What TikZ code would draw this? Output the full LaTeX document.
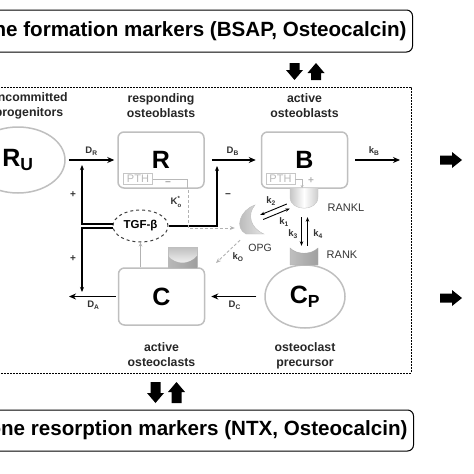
\documentclass[tikz,border=0pt]{standalone}
\usepackage{fontspec}
\setmainfont{Liberation Sans}
\usetikzlibrary{arrows.meta, positioning, shapes.geometric, calc}

\begin{document}
\begin{tikzpicture}[x=1pt, y=-1pt, >=Stealth,
      every node/.style = {inner sep=1pt},
      marker/.style = {draw, line width=1pt, rounded corners=6pt, minimum height=42pt,
        inner xsep=6pt, font=\fontsize{20.6}{23}\selectfont\bfseries},
      cell/.style = {draw=gray!50, line width=1.5pt, rounded corners=6pt, fill=white,
        minimum width=86pt, minimum height=56pt, font=\fontsize{25}{27}\selectfont\bfseries},
      blob/.style = {cell, ellipse, rounded corners=0pt},
      caption/.style = {align=center, font=\fontsize{12.3}{15}\selectfont\bfseries, text=black!85},
      rate/.style = {font=\fontsize{9.5}{10}\selectfont\bfseries, text=black!80},
      sign/.style = {font=\fontsize{10}{10}\selectfont\bfseries, text=black!80},
      site/.style = {minimum width=28pt, minimum height=#1, inner sep=0pt},
      pth/.style = {draw=gray!45, text=gray!55, font=\fontsize{11}{11}\selectfont,
        inner sep=0.5pt, minimum width=29pt, minimum height=11pt},
      flow/.style = {line width=1.3pt, -{Stealth[length=7pt, width=6pt]}},
      feed/.style = {line width=1.1pt, -{Stealth[length=5pt, width=4pt]}},
      bind/.style = {line width=0.9pt, -{Stealth[length=4.5pt, width=3.5pt]}},
      signal/.style = {gray!60, line width=0.9pt, dash pattern=on 3pt off 2pt,
        -{Stealth[length=5pt, width=4pt]}}]

    \useasboundingbox (0,0) rectangle (474,474);
    \clip (0,0) rectangle (474,474);

    % bone markers
    \node[marker, anchor=east] (form) at (413,31) {Bone formation markers (BSAP, Osteocalcin)};
    \node[marker, anchor=east, minimum height=41pt] (resorp) at (414,430.5) {Bone resorption markers (NTX, Osteocalcin)};

    \foreach \ax/\ay/\len in {294.5/63/17, 155.5/382/21}
      \fill (\ax-5,\ay) -- ++(10,0) -- ++(0,\len-10) -- ++(3.5,0) -- ++(-8.5,10)
        -- ++(-8.5,-10) -- ++(3.5,0) -- cycle;
    \foreach \ax/\ay/\len in {316/63/17, 176.5/382/21}
      \fill (\ax,\ay) -- ++(8.5,10) -- ++(-3.5,0) -- ++(0,\len-10) -- ++(-10,0)
        -- ++(0,10-\len) -- ++(-3.5,0) -- cycle;
    \foreach \ay in {160, 298}
      \fill (440,\ay-4.5) -- ++(12,0) -- ++(0,-3.5) -- ++(10,8) -- ++(-10,8)
        -- ++(0,-3.5) -- ++(-12,0) -- cycle;

    % model
    \draw[line width=0.8pt, dash pattern=on 2pt off 1pt] (-10,87) rectangle (411,373);

    \node[blob, minimum width=94pt, minimum height=66pt] (RU) at (18,160) {R\textsubscript{U}};
    \node[cell] (R) at (161,160) {R};
    \node[cell] (B) at (304.5,160) {B};
    \node[cell, minimum height=57pt] (C) at (161.5,296.5) {C};
    \node[blob, minimum width=80pt, minimum height=63pt] (CP) at (305,296.5) {C\textsubscript{P}};

    \node[caption] (RUcap) at (29,105.5) {uncommitted\\progenitors};
    \node[caption, above=12pt of R] (Rcap) {responding\\osteoblasts};
    \node[caption, above=12pt of B] (Bcap) {active\\osteoblasts};
    \node[caption, below=16pt of C] (Ccap) {active\\osteoclasts};
    \node[caption, below=13pt of CP] (CPcap) {osteoclast\\precursor};

    \coordinate (Bout) at (400,160);
    \coordinate (Aout) at (69,296.5);
    \draw[flow, shorten <=3pt, shorten >=3pt] (RU) -- node[rate, above=3pt] {D\textsubscript{R}} (R);
    \draw[flow, shorten <=7pt, shorten >=5pt] (R) -- node[rate, above=3pt] {D\textsubscript{B}} (B);
    \draw[flow, shorten <=7pt] (B) -- node[rate, above=3pt] {k\textsubscript{B}} (Bout);
    \draw[flow, shorten <=8pt, shorten >=6pt] (CP) -- node[rate, below=3pt] {D\textsubscript{C}} (C);
    \draw[flow, shorten <=2pt] (C) -- node[rate, below=3pt] {D\textsubscript{A}} (Aout);

    % TGF-beta feedback
    \node[ellipse, draw=black!75, dashed, line width=1pt, minimum width=55pt, minimum height=32pt,
      font=\fontsize{11.5}{12}\selectfont\bfseries] (tgf) at (140.5,226) {TGF-β};
    \coordinate (up) at (82,165);
    \coordinate (dn) at (82,292);
    \coordinate (BRup) at (217,166);
    \draw[feed] ([yshift=2pt]tgf.west) -| (up);
    \draw[feed] ([yshift=-2pt]tgf.west) -| (dn);
    \draw[feed] (tgf.east) -| (BRup);
    \node[sign] at (73,195) {+};
    \node[sign] at (73,259) {+};
    \node[sign] at (228,196) {−};
    \draw[gray!60, line width=1pt, -{Stealth[length=4pt, width=3.5pt]}] (tgf.south |- C.north) -- (tgf.south);

    % PTH
    \node[pth, anchor=south west] (Rpth) at ([shift={(6,-4)}]R.south west) {PTH};
    \node[pth, anchor=south west] (Bpth) at ([shift={(5,-4)}]B.south west) {PTH};
    \draw[gray!55, line width=0.8pt] (Rpth.east) -- ++(35,0) -- ++(0,9.5);
    \node[sign, text=gray!70] at (168,183.5) {−};
    \draw[gray!55, line width=0.8pt, -{Stealth[length=3pt, width=3pt]}] (Bpth.east) -- ++(7,0) -- ++(0,9);
    \node[sign, text=gray!60] at (311,181) {+};

    % RANKL, RANK, OPG
    \node[site=22pt] (rankl) at (304,199) {};
    \node[site=17pt] (rank) at (304,256.5) {};
    \node[minimum width=30pt, minimum height=29pt, inner sep=0pt] (opg) at (252,220.5) {};
    \shade[left color=gray!45, right color=gray!40, middle color=white, draw=gray!45]
      (290,188) -- (290,197) .. controls (290,212) and (318,212) .. (318,197) -- (318,188) -- cycle;
    \shade[left color=gray!50, right color=gray!75, draw=gray!65]
      (290,248) .. controls (297,255) and (311,255) .. (318,248) -- (318,265) -- (290,265) -- cycle;
    \shade[top color=gray!50, bottom color=white, draw=gray!50] (168,247) rectangle (197,268);
    \shade[left color=gray!55, right color=gray!75]
      (168,256) .. controls (176,265) and (189,265) .. (197,256) -- (197,268) -- (168,268) -- cycle;
    \shade[left color=gray!60, right color=gray!20, draw=gray!50]
      (255,205) .. controls (240,210) and (234,228) .. (246,234) -- (264,234)
      .. controls (250,228) and (247,214) .. (255,205) -- cycle;
    \node[font=\fontsize{11}{11}\selectfont, text=black!80] at (346,208) {RANKL};
    \node[font=\fontsize{11}{11}\selectfont, text=black!80] at (342,255) {RANK};
    \node[font=\fontsize{10.5}{11}\selectfont, text=black!80] at (260,248) {OPG};

    \draw[bind] ([shift={(-3,5)}]rankl.west) -- ([shift={(-7,-5.5)}]opg.east);
    \draw[bind] ([shift={(-4,-1)}]opg.east) -- ([shift={(0,9.5)}]rankl.west);
    \draw[bind] ([xshift=-2.5pt, yshift=-7pt]rankl.south) -- ([xshift=-2.5pt, yshift=2pt]rank.north);
    \draw[bind] ([xshift=3.5pt, yshift=2pt]rank.north) -- ([xshift=3.5pt, yshift=-7pt]rankl.south);
    \node[rate] at (271,201) {k\textsubscript{2}};
    \node[rate] at (284,222) {k\textsubscript{1}};
    \node[rate] at (293,234) {k\textsubscript{3}};
    \node[rate] at (318,234) {k\textsubscript{4}};

    \coordinate (Rsig) at (188,190);
    \coordinate (kOend) at (216,263);
    \draw[signal] (Rsig) |- ([shift={(-2,7.5)}]opg.west);
    \draw[signal] ([shift={(-12,5)}]opg.south) -- (kOend);
    \node[rate] at (176,202) {K\raisebox{-2.5pt}{\fontsize{6}{6.5}\selectfont\shortstack[l]{*\\o}}};
    \node[rate] at (238,257) {k\textsubscript{O}};
\end{tikzpicture}
\end{document}
